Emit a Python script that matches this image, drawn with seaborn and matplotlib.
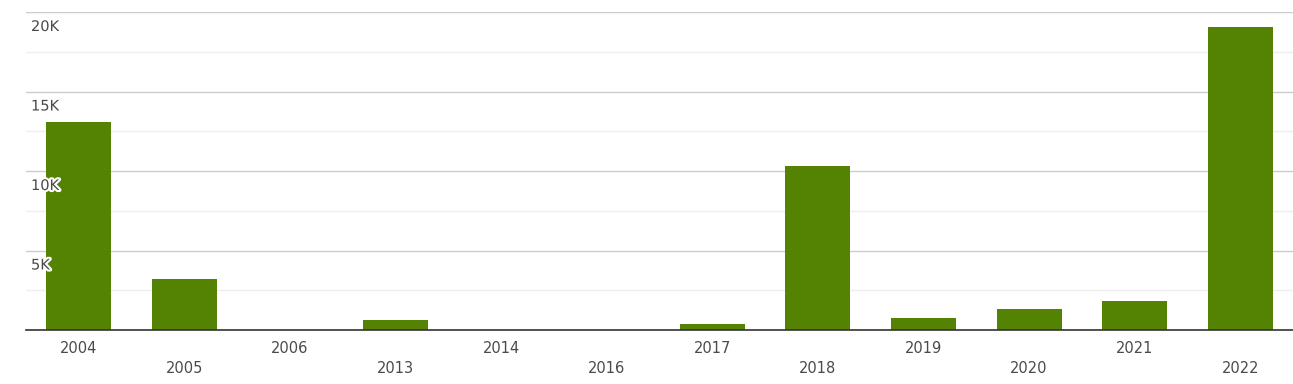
import matplotlib
matplotlib.use("Agg")
import matplotlib.pyplot as plt
import matplotlib.patheffects as pe
from matplotlib.transforms import blended_transform_factory, offset_copy
import seaborn as sns
import pandas as pd

years = ["2004", "2005", "2006", "2013", "2014", "2016", "2017", "2018", "2019", "2020", "2021", "2022"]
values = [13100, 3200, 0, 630, 0, 0, 390, 10320, 760, 1330, 1830, 19080]
ytick_values = [5000, 10000, 15000, 20000]
ytick_labels = ["5K", "10K", "15K", "20K"]

df = pd.DataFrame({"year": years, "value": values})

sns.set_theme(style="white")
plt.rcParams["font.family"] = ["DejaVu Sans"]

fig = plt.figure(figsize=(12.93, 3.84), dpi=100)
ax = fig.add_axes([26 / 1293, 1 - 330 / 384, 1 - 26 / 1293, (330 - 12) / 384])

sns.barplot(data=df, x="year", y="value", color="#548203", saturation=1, width=0.615,
            linewidth=0, ax=ax, zorder=2)

ax.set_ylim(0, 20000)
ax.set_xlim(-0.5, len(years) - 0.5)
ax.set_xlabel("")
ax.set_ylabel("")
for s in ["top", "left", "right"]:
    ax.spines[s].set_visible(False)
ax.spines["bottom"].set_color("#333333")
ax.spines["bottom"].set_linewidth(1.2)
ax.spines["bottom"].set_zorder(3)

# gridlines
ax.set_yticks([0, 5000, 10000, 15000, 20000])
ax.set_yticks([2500, 7500, 12500, 17500], minor=True)
ax.grid(axis="y", which="major", color="#cccccc", linewidth=1, zorder=0)
ax.grid(axis="y", which="minor", color="#eeeeee", linewidth=1, zorder=0)
ax.tick_params(axis="y", which="both", left=False, labelleft=False)
ax.tick_params(axis="x", bottom=False, labelbottom=False)

# y labels inside the plot, below each gridline
trans_y = blended_transform_factory(ax.transAxes, ax.transData)
for v, lab in zip(ytick_values, ytick_labels):
    t = ax.text(5 / 1267, v, lab, transform=offset_copy(trans_y, fig=fig, x=0, y=-7, units="dots"),
                ha="left", va="top", fontsize=10.5, color="#4a4a4a", zorder=5)
    t.set_path_effects([pe.withStroke(linewidth=3, foreground="white")])

# staggered x labels
trans_x = blended_transform_factory(ax.transData, ax.transAxes)
for i, y in enumerate(years):
    dy = -11 if i % 2 == 0 else -31
    ax.text(i, 0, y, transform=offset_copy(trans_x, fig=fig, x=0, y=dy, units="dots"),
            ha="center", va="top", fontsize=10.5, color="#4a4a4a")

fig.savefig("out.png", dpi=100)
